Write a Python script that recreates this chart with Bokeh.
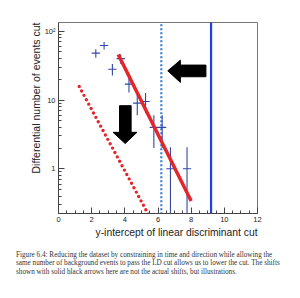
import numpy as np
from bokeh.plotting import figure
from bokeh.models import FixedTicker, CustomJSTickFormatter, Range1d, Title, Div
from bokeh.layouts import column
from bokeh.embed import file_html
from bokeh.resources import INLINE

# --- data ---
bin_x = [2.25, 2.75, 3.25, 3.75, 4.25, 4.75, 5.25, 5.75, 6.25, 6.75, 7.75]
counts = [48, 62, 28, 40, 17, 9, 9.5, 4, 4, 1, 1]
err_up = [6.9, 7.9, 5.3, 6.3, 4.1, 3.0, 3.1, 2.0, 2.0, 1.05, 1.05]
err_dn = [6.9, 7.9, 5.3, 6.3, 4.1, 3.0, 3.1, 2.0, 2.0, 0.99, 0.99]
bin_half = 0.25

fit_x = [3.6, 8.0]
fit_y = [46.0, 0.34]
shift_x = [1.25, 5.5]
shift_y = [15.7, 0.2]

cut_old = 9.2
cut_new = 6.2

left_arrow_x = [6.59, 7.35, 7.35, 8.89, 8.89, 7.35, 7.35]
left_arrow_y = [26.6, 38.0, 32.2, 32.2, 21.8, 21.8, 18.0]
down_arrow_x = [4.02, 3.29, 3.68, 3.68, 4.38, 4.38, 4.73]
down_arrow_y = [2.33, 3.39, 3.39, 8.27, 8.27, 3.39, 3.39]

x_major = [0, 2, 4, 6, 8, 10, 12]
x_minor = [v * 0.5 for v in range(0, 25)]
y_major = [1, 10, 100]
y_minor = [0.3, 0.4, 0.5, 0.6, 0.7, 0.8, 0.9, 2, 3, 4, 5, 6, 7, 8, 9,
           20, 30, 40, 50, 60, 70, 80, 90]

x_title = "y-intercept of linear discriminant cut"
y_title = "Differential number of events cut"
caption = [
    "Figure 6.4: Reducing the dataset by constraining in time and direction while allowing the",
    "same number of background events to pass the LD cut allows us to lower the cut. The shifts",
    "shown with solid black arrows here are not the actual shifts, but illustrations.",
]

p = figure(width=300, height=244, y_axis_type="log",
           x_range=Range1d(0, 12), y_range=Range1d(0.224, 134),
           output_backend="svg", toolbar_location=None,
           min_border_left=58, min_border_right=43,
           min_border_top=22, min_border_bottom=31)
p.background_fill_color = "white"
p.border_fill_color = "white"
p.outline_line_color = "#777777"
p.xgrid.visible = False
p.ygrid.visible = False

for ax in (p.xaxis[0], p.yaxis[0]):
    ax.axis_line_color = "#444444"
    ax.major_tick_line_color = "#444444"
    ax.minor_tick_line_color = "#444444"
    ax.major_tick_in = 6
    ax.major_tick_out = 0
    ax.minor_tick_in = 3
    ax.minor_tick_out = 0
    ax.major_label_text_font = "Liberation Sans"
    ax.major_label_text_font_size = "7.5px"
    ax.major_label_text_color = "#222222"
    ax.major_label_standoff = 3

p.xaxis.ticker = FixedTicker(ticks=x_major, minor_ticks=x_minor)
p.yaxis.ticker = FixedTicker(ticks=y_major, minor_ticks=y_minor)
p.yaxis.formatter = CustomJSTickFormatter(
    code="var t = Math.round(tick); return t >= 100 ? '10\u00b2' : String(t);")

# vertical cut lines
p.line([cut_new, cut_new], [0.01, 1000], line_color="#3b7fd6", line_width=2.2,
       line_dash="2 2")
p.line([cut_old, cut_old], [0.01, 1000], line_color="#1f3ff0", line_width=2.2)

# data crosses
bx = np.array(bin_x)
cy = np.array(counts)
p.segment(x0=bx - bin_half, x1=bx + bin_half, y0=cy, y1=cy,
          line_color="#3446a8", line_width=1.1)
p.segment(x0=bx, x1=bx, y0=cy - np.array(err_dn), y1=cy + np.array(err_up),
          line_color="#3446a8", line_width=1.1)

# red lines
p.line(fit_x, fit_y, line_color="#e3262b", line_width=3.5)
p.line(shift_x, shift_y, line_color="#e3262b", line_width=3.4,
       line_dash="0 5", line_cap="round")

# arrows
p.patch(left_arrow_x, left_arrow_y, fill_color="black", line_color="black")
p.patch(down_arrow_x, down_arrow_y, fill_color="black", line_color="black")

# axis titles
p.add_layout(Title(text=x_title, align="right", text_font="Liberation Sans",
                   text_font_size="10.3px", text_font_style="normal",
                   text_color="#222222", standoff=0, offset=0), "below")
p.add_layout(Title(text=y_title, align="right", text_font="Liberation Sans",
                   text_font_size="10.5px", text_font_style="normal",
                   text_color="#222222", standoff=0, offset=0), "left")

cap = Div(text="<br>".join(caption), width=300, height=54, margin=0,
          styles={"font-family": "'Liberation Serif', serif",
                  "font-size": "7.2px", "line-height": "8.4px",
                  "color": "#333333", "padding-top": "7px",
                  "padding-left": "16px", "white-space": "nowrap"})

layout = column(p, cap, spacing=0)
open("out.html", "w").write(file_html(layout, INLINE))
